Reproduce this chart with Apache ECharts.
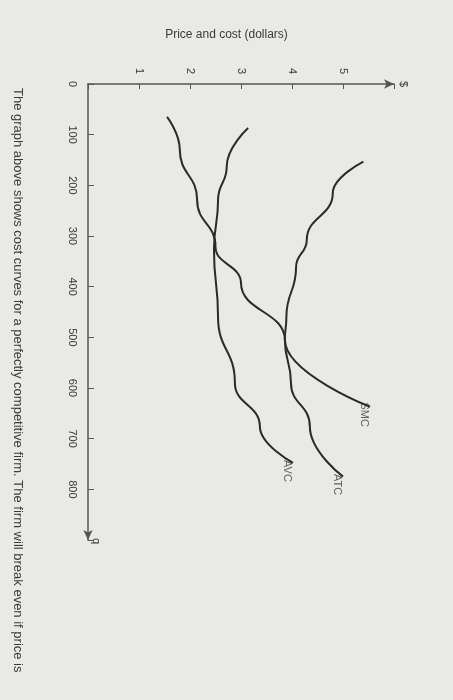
<!DOCTYPE html>
<html><head><meta charset="utf-8">
<script src="https://cdn.jsdelivr.net/npm/echarts@6/dist/echarts.min.js"></script>
<style>html,body{margin:0;padding:0;background:#e9e9e6}#c{width:453px;height:700px}</style>
</head><body><div id="c"></div>
<script>
// [quantity, price]
const smc = [[65,1.55],[130,1.8],[229,2.14],[321,2.5],[393,3.0],[505,3.86],[637,5.53]];
const avc = [[87,3.14],[163,2.72],[229,2.55],[327,2.47],[460,2.55],[590,2.88],[676,3.37],[748,4.02]];
const atc = [[153,5.4],[215,4.8],[308,4.29],[361,4.08],[460,3.89],[505,3.86],[590,3.98],[676,4.35],[775,5.0]];
const names = ['SMC','ATC','AVC'];
const priceTicks = [1,2,3,4,5];
const qtyTicks = [0,100,200,300,400,500,600,700,800];
const caption = 'The graph above shows cost curves for a perfectly competitive firm. The firm will break even if price is';
const txt = '#3a3a3a';
const font = 'Liberation Sans';
function mk(name, pts){
  return {type:'line', name, data:pts.map(p=>[p[1],p[0]]), smooth:0.5, smoothMonotone:'y', symbol:'none',
    lineStyle:{color:'#2a2a2a', width:2}, silent:true};
}
const curves = [smc, atc, avc];
const labelSeries = {type:'scatter', symbolSize:0, silent:true,
  data: curves.map((c,i)=>{const p=c[c.length-1]; return {value:[p[1],p[0]], name:names[i]};}),
  label:{show:true, formatter:'{b}', rotate:-90, position:'bottom', distance:8, color:txt, fontSize:11, fontFamily:font}};
const ch = echarts.init(document.getElementById('c'));
ch.setOption({
  backgroundColor:'#e9e9e6', animation:false,
  grid:{left:88, top:84, width:306, height:456},
  xAxis:{type:'value', position:'top', min:0, max:6, interval:1,
    axisLine:{show:true, lineStyle:{color:'#555', width:1.5}, symbol:['none','arrow'], symbolSize:[7,10]},
    axisTick:{show:true, inside:true, length:5, lineStyle:{color:'#555'}},
    axisLabel:{rotate:-90, color:txt, fontSize:11, fontFamily:font, margin:10,
      formatter:v=>priceTicks.includes(v)?String(v):''},
    splitLine:{show:false},
    name:'$', nameLocation:'end', nameRotate:-90, nameGap:4, nameTextStyle:{color:txt, fontSize:11, padding:[18,0,0,0]}},
  yAxis:{type:'value', inverse:true, min:0, max:900, interval:100,
    axisLine:{show:true, lineStyle:{color:'#555', width:1.5}, symbol:['arrow','none'], symbolSize:[7,10]},
    axisTick:{show:true, inside:true, length:6, lineStyle:{color:'#555'}},
    axisLabel:{rotate:-90, color:txt, fontSize:11, fontFamily:font, margin:10,
      formatter:v=>qtyTicks.includes(v)?String(v):''},
    splitLine:{show:false}},
  graphic:[
    {type:'text', left:'center', top:29, style:{text:'Price and cost (dollars)', fill:txt, fontSize:12, fontFamily:font}},
    {type:'text', x:102, y:538, rotation:-Math.PI/2, style:{text:'q', fill:txt, fontSize:11, fontFamily:font}},
    {type:'text', x:18, y:88, rotation:-Math.PI/2, style:{text:caption, fill:txt, fontSize:13, fontFamily:font, textVerticalAlign:'middle'}}
  ],
  series:[mk('SMC',smc), mk('ATC',atc), mk('AVC',avc), labelSeries]
});
</script></body></html>
